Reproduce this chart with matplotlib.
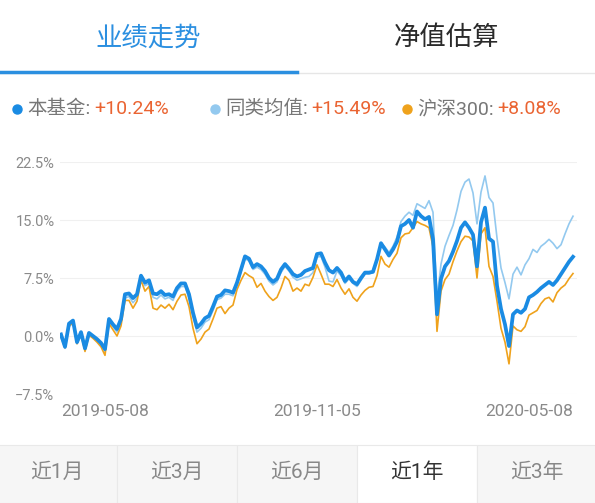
import matplotlib.pyplot as plt
import numpy as np
from matplotlib.lines import Line2D
from matplotlib.patches import Rectangle

plt.rcParams['font.family'] = ['Roboto', 'Noto Sans CJK SC', 'DejaVu Sans']

# 累计收益率 (%) - 约每两个交易日一个点
fund = [0.2, -1.4, 1.6, 2.0, -0.8, 0.5, -1.6, 0.4, 0.0, -0.4,
        -0.9, -1.7, 2.2, 1.5, 0.9, 2.2, 5.4, 5.5, 4.9, 5.4,
        7.8, 6.9, 7.2, 5.5, 5.4, 5.8, 5.3, 5.4, 5.1, 6.2,
        6.8, 6.8, 5.4, 3.0, 1.1, 1.6, 2.3, 2.6, 3.8, 5.1,
        5.3, 5.9, 5.8, 5.6, 6.9, 8.6, 10.3, 10.0, 8.9, 9.3,
        9.0, 8.4, 7.5, 7.0, 7.4, 8.6, 9.3, 8.7, 8.0, 7.7,
        7.9, 8.4, 8.6, 8.8, 10.6, 10.7, 9.5, 8.5, 8.2, 8.8,
        8.2, 7.1, 7.7, 7.0, 6.7, 7.5, 8.2, 8.2, 8.3, 9.9,
        12.0, 11.2, 10.4, 11.2, 12.2, 14.2, 14.5, 15.0, 14.0, 16.1,
        15.5, 15.1, 15.4, 12.5, 2.8, 7.4, 9.0, 9.7, 10.9, 12.3,
        14.0, 14.7, 14.0, 13.1, 9.0, 14.7, 16.6, 12.6, 12.2, 6.5,
        3.5, 1.5, -1.3, 2.8, 3.3, 3.0, 3.5, 5.0, 5.3, 5.7,
        6.2, 6.6, 7.0, 6.6, 7.2, 8.0, 8.8, 9.6, 10.24]

peers = [-0.2, -1.6, 1.2, 1.7, -1.0, 0.3, -1.8, 0.2, -0.2, -0.6,
         -1.1, -2.0, 1.8, 1.2, 0.5, 1.8, 4.9, 5.1, 4.3, 4.9,
         7.5, 6.5, 6.8, 5.0, 4.8, 5.3, 4.8, 5.0, 4.6, 5.8,
         6.4, 6.4, 4.9, 2.5, 0.5, 1.0, 1.8, 2.1, 3.3, 4.7,
         4.9, 5.4, 5.4, 5.2, 6.5, 8.3, 10.0, 9.7, 8.6, 8.9,
         8.6, 8.0, 7.1, 6.6, 7.0, 8.2, 9.0, 8.4, 7.6, 7.2,
         7.4, 7.6, 7.7, 8.2, 10.2, 10.3, 8.9, 7.1, 7.0, 8.4,
         7.8, 6.8, 7.4, 6.8, 6.4, 7.2, 8.0, 8.0, 8.2, 9.8,
         12.0, 11.5, 10.8, 11.6, 12.8, 14.8, 15.5, 16.0, 15.6, 17.1,
         16.8, 16.5, 17.5, 16.0, 4.7, 9.3, 11.6, 13.0, 14.3, 16.3,
         18.7, 19.9, 20.3, 18.5, 14.5, 18.6, 20.7, 17.9, 17.2, 12.7,
         8.8, 6.9, 4.8, 8.0, 8.9, 7.9, 9.2, 10.0, 11.2, 10.8,
         11.6, 12.0, 12.5, 12.0, 11.3, 11.8, 13.2, 14.5, 15.49]

hs300 = [0.0, -1.5, 1.3, 1.7, -1.0, 0.2, -2.0, 0.1, -0.3, -0.8,
         -1.4, -2.5, 1.6, 0.8, 0.0, 1.3, 4.6, 4.6, 3.6, 4.5,
         7.2, 5.8, 6.4, 3.6, 3.4, 4.0, 3.6, 4.1, 3.4, 4.5,
         5.3, 5.4, 3.8, 1.0, -1.0, -0.4, 0.5, 0.9, 2.2, 3.6,
         3.8, 2.9, 3.6, 4.0, 6.0, 7.2, 8.2, 7.8, 7.5, 6.3,
         6.8, 5.8, 5.1, 4.6, 5.0, 6.2, 7.7, 7.2, 5.8, 6.2,
         5.8, 6.7, 6.5, 7.6, 9.2, 8.0, 6.7, 6.7, 6.4, 7.3,
         6.2, 5.4, 6.1, 5.0, 4.5, 5.3, 5.9, 6.3, 6.4, 7.8,
         10.3, 9.3, 8.9, 9.9, 10.7, 12.7, 13.2, 13.3, 14.0, 14.8,
         14.5, 14.3, 14.0, 11.5, 0.6, 5.8, 7.3, 8.0, 9.6, 11.0,
         12.2, 12.9, 12.8, 12.3, 7.5, 13.2, 14.0, 9.0, 7.7, 4.5,
         1.0, -0.8, -3.6, 1.3, 0.8, 0.6, 1.2, 2.7, 3.0, 3.3,
         4.2, 4.8, 5.0, 4.4, 5.6, 6.2, 6.6, 7.4, 8.08]

series_names = ['本基金', '同类均值', '沪深300']
series_returns = ['+10.24%', '+15.49%', '+8.08%']
date_labels = ['2019-05-08', '2019-11-05', '2020-05-08']
y_ticks = [-7.5, 0.0, 7.5, 15.0, 22.5]
y_labels = ['−7.5%', '0.0%', '7.5%', '15.0%', '22.5%']
top_tabs = ['业绩走势', '净值估算']
range_tabs = ['近1月', '近3月', '近6月', '近1年', '近3年']

c_fund = '#1a8be3'
c_peer = '#93c9ef'
c_hs = '#efa21c'
c_red = '#ea6432'

W, H = 595, 503
fig = plt.figure(figsize=(W / 100, H / 100), dpi=100)

def fx(px):
    return px / W

def fy(py):
    return 1 - py / H

# 图表区域
ax = fig.add_axes([fx(60), fy(394), fx(577) - fx(60), fy(162) - fy(394)])
x = np.arange(len(fund))
ax.plot(x, peers, color=c_peer, lw=1.2, zorder=2)
ax.plot(x, hs300, color=c_hs, lw=1.2, zorder=3)
ax.plot(x, fund, color=c_fund, lw=2.7, zorder=4)

ax.set_xlim(-0.25, len(fund) - 1 + 1)
ax.set_ylim(-7.5, 22.5)
ax.set_yticks(y_ticks)
ax.set_yticklabels(y_labels)
ax.grid(axis='y', color='#f0f0f0', lw=0.8)
ax.set_axisbelow(True)
for s in ax.spines.values():
    s.set_visible(False)
ax.tick_params(axis='y', length=0, pad=4, labelsize=10.5, labelcolor='#8a8a8a')

n = len(fund)
ax.set_xticks([0, (n - 1) / 2, n - 1])
ax.set_xticklabels(date_labels)
ax.tick_params(axis='x', length=0, pad=7, labelsize=12.5, labelcolor='#8a8a8a')
for lab, ha in zip(ax.get_xticklabels(), ['left', 'center', 'right']):
    lab.set_horizontalalignment(ha)

# 顶部标签页
fig.text(fx(148), fy(38), top_tabs[0], fontsize=19, color='#2b8fe0', ha='center', va='center')
fig.text(fx(447), fy(38), top_tabs[1], fontsize=19, color='#2a2a2a', ha='center', va='center')
fig.add_artist(Line2D([0, 1], [fy(73), fy(73)], transform=fig.transFigure, color='#e6e6e6', lw=1))
fig.add_artist(Line2D([0, fx(297)], [fy(72), fy(72)], transform=fig.transFigure, color='#2b8fe0', lw=2.5))

# 图例：名称后紧跟收益率
renderer = fig.canvas.get_renderer()
legend_pos = [(17, 27), (215, 225), (407, 417)]
for (dot_x, name_x), name, ret, col in zip(legend_pos, series_names, series_returns, [c_fund, c_peer, c_hs]):
    fig.add_artist(Line2D([fx(dot_x)], [fy(109)], transform=fig.transFigure, marker='o',
                          ms=6.5, color=col, lw=0))
    t = fig.text(fx(name_x), fy(109), name + ':', fontsize=14, color='#777777', ha='left', va='center')
    end_px = t.get_window_extent(renderer).x1
    fig.text(fx(end_px + 4), fy(109), ret, fontsize=14, color=c_red, ha='left', va='center')

# 底部时间区间
tab_w = 120
for i, t in enumerate(range_tabs):
    selected = t == '近1年'
    x0 = -3 + i * tab_w
    fig.patches.append(Rectangle((fx(x0), 0), fx(tab_w), fy(445), transform=fig.transFigure,
                                 facecolor='white' if selected else '#f6f6f6',
                                 edgecolor='#e9e9e9', lw=0.8))
    fig.text(fx(x0 + tab_w / 2), fy(472), t, fontsize=15,
             color='#333333' if selected else '#888888', ha='center', va='center')

fig.savefig('out.png', dpi=100)
